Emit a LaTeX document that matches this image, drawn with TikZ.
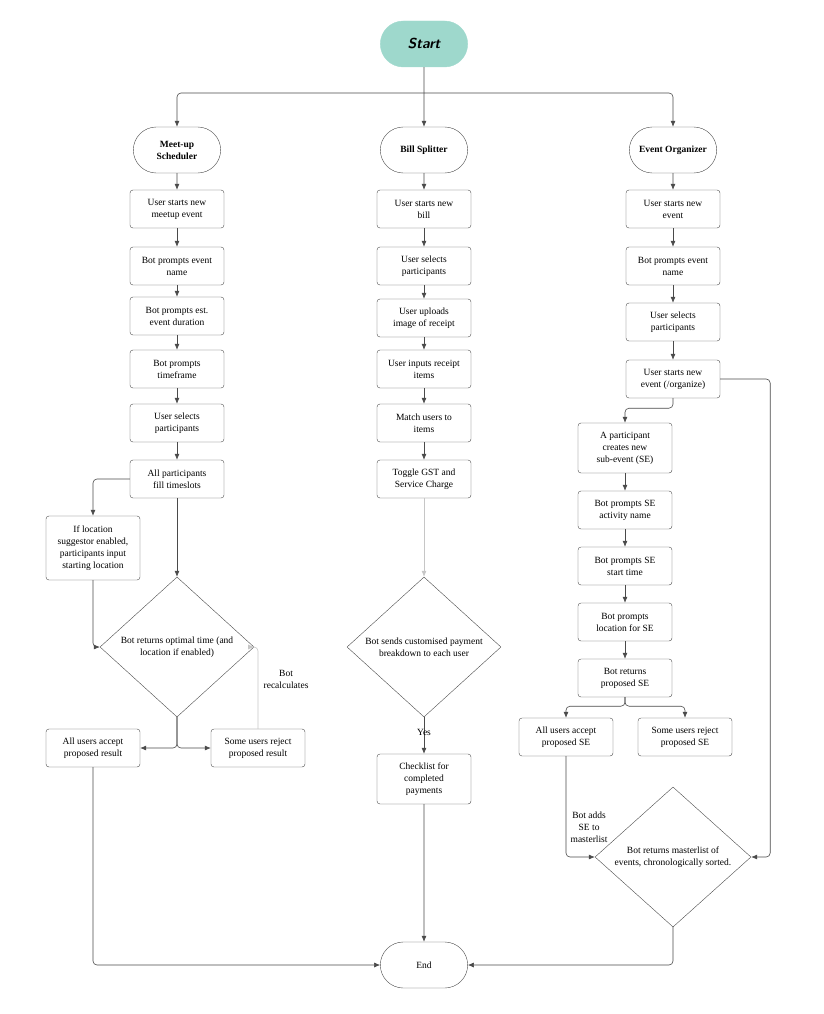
\documentclass[tikz,border=0pt]{standalone}
\usepackage{fontspec}
\setmainfont{Liberation Serif}
\usetikzlibrary{arrows.meta}
\usetikzlibrary{shapes.geometric}
\usetikzlibrary{shapes.misc}

\definecolor{startteal}{HTML}{9ED8CC}
\definecolor{lineg}{HTML}{4A4A4A}

\tikzset{
  proc/.style={draw=lineg, rounded corners=3pt, minimum width=94pt, minimum height=38pt,
    align=center, font=\fontsize{9.5}{12}\selectfont, inner sep=1pt},
  head/.style={draw=lineg, rounded rectangle, minimum width=94pt, minimum height=46pt,
    align=center, font=\fontsize{9.5}{12}\selectfont\bfseries},
  choice/.style={draw=lineg, diamond, minimum width=154pt, minimum height=140pt, aspect=1.1,
    align=center, font=\fontsize{9.5}{12}\selectfont, inner sep=0pt},
  link/.style={draw=lineg, line width=0.6pt, -{Latex[length=6pt,width=5pt]}, rounded corners=4pt},
  faint/.style={link, draw=gray!45},
  note/.style={font=\fontsize{9.5}{12}\selectfont, align=center},
}

\begin{document}
\begin{tikzpicture}[x=1pt, y=-1pt]
\useasboundingbox (0,0) rectangle (823,1014);

\node[draw=startteal, fill=startteal, rounded rectangle, minimum width=94pt, minimum height=46pt,
  font=\Large\bfseries\itshape\sffamily] (start) at (424,44) {Start};

% headers
\node[head] (meet) at (177,150) {Meet-up\\Scheduler};
\node[head] (bill) at (424,150) {Bill Splitter};
\node[head] (org) at (673,150) {Event Organizer};

% meet-up scheduler
\node[proc] (m1) at (177,209) {User starts new\\meetup event};
\node[proc] (m2) at (177,266) {Bot prompts event\\name};
\node[proc] (m3) at (177,316) {Bot prompts est.\\event duration};
\node[proc] (m4) at (177,369) {Bot prompts\\timeframe};
\node[proc] (m5) at (177,423) {User selects\\participants};
\node[proc] (m6) at (177,479) {All participants\\fill timeslots};
\node[proc, minimum height=64pt] (mloc) at (93,548) {If location\\suggestor enabled,\\participants input\\starting location};
\node[choice] (mdec) at (177,647) {Bot returns optimal time (and\\location if enabled)};
\node[proc] (macc) at (93,748) {All users accept\\proposed result};
\node[proc] (mrej) at (258,748) {Some users reject\\proposed result};

% bill splitter
\node[proc] (b1) at (424,209) {User starts new\\bill};
\node[proc] (b2) at (424,266) {User selects\\participants};
\node[proc] (b3) at (424,318) {User uploads\\image of receipt};
\node[proc] (b4) at (424,369) {User inputs receipt\\items};
\node[proc] (b5) at (424,423) {Match users to\\items};
\node[proc] (b6) at (424,479) {Toggle GST and\\Service Charge};
\node[choice] (bdec) at (424,647) {Bot sends customised payment\\breakdown to each user};
\node[proc, minimum height=50pt] (bchk) at (424,779) {Checklist for\\completed\\payments};

% event organizer
\node[proc] (e1) at (673,209) {User starts new\\event};
\node[proc] (e2) at (673,266) {Bot prompts event\\name};
\node[proc] (e3) at (673,322) {User selects\\participants};
\node[proc] (e4) at (673,379) {User starts new\\event (/organize)};
\node[proc, minimum height=50pt] (s1) at (625,448) {A participant\\creates new\\sub-event (SE)};
\node[proc] (s2) at (625,510) {Bot prompts SE\\activity name};
\node[proc] (s3) at (625,566) {Bot prompts SE\\start time};
\node[proc] (s4) at (625,622) {Bot prompts\\location for SE};
\node[proc] (s5) at (625,678) {Bot returns\\proposed SE};
\node[proc] (sacc) at (566,737) {All users accept\\proposed SE};
\node[proc] (srej) at (685,737) {Some users reject\\proposed SE};
\node[choice, minimum width=156pt] (edec) at (673,857) {Bot returns masterlist of\\events, chronologically sorted.};

\node[head] (end) at (424,965) {\mdseries End};

% top split
\draw[link] (start) -- (bill);
\draw[link] (424,93) -| (meet);
\draw[link] (424,93) -| (org);

% chains
\foreach \a/\b in {meet/m1,m1/m2,m2/m3,m3/m4,m4/m5,m5/m6,m6/mdec,
  bill/b1,b1/b2,b2/b3,b3/b4,b4/b5,b5/b6,bdec/bchk,bchk/end,
  org/e1,e1/e2,e2/e3,e3/e4,s1/s2,s2/s3,s3/s4,s4/s5}
  \draw[link] (\a) -- (\b);

% meet-up branches
\draw[link] (m6.west) -| (mloc.north);
\draw[link] (mloc.south) |- (mdec.west);
\draw[link] (mdec.south) |- (macc.east);
\draw[link] (mdec.south) |- (mrej.west);
\draw[faint] (mrej.north) |- (mdec.east) node[note, pos=0.3, right, xshift=2pt] {Bot\\recalculates};
\draw[link] (macc.south) |- (end.west);

% bill splitter
\draw[faint] (b6) -- (bdec);
\node[note] (yes) at (424,732) {Yes};

% event organizer branches
\draw[link] (e4.south) -- ++(0,10) -| (s1.north);
\draw[link] (e4.east) -- ++(50,0) |- (edec.east);
\draw[link] (s5.south) -- ++(0,9) -| (sacc.north);
\draw[link] (s5.south) -- ++(0,9) -| (srej.north);
\draw[link] (sacc.south) |- (edec.west) node[note, pos=0.35, right, xshift=1pt] {Bot adds\\SE to\\masterlist};
\draw[link] (edec.south) |- (end.east);
\end{tikzpicture}
\end{document}
